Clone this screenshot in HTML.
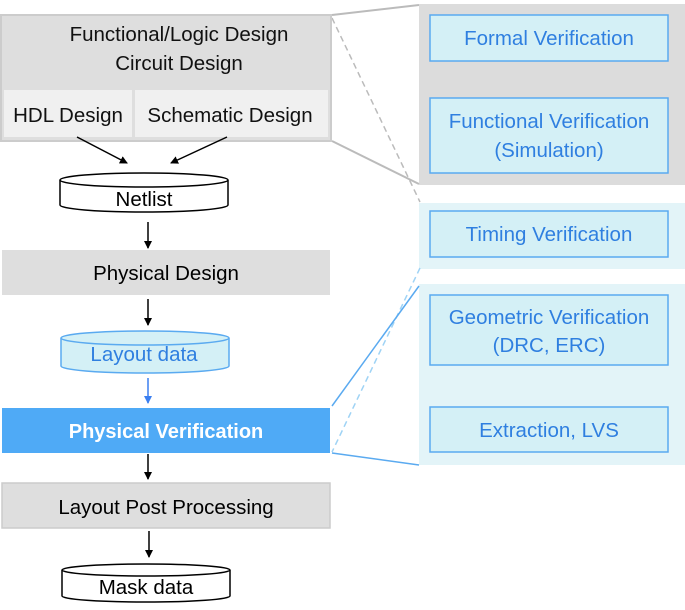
<!DOCTYPE html>
<html><head><style>
body{margin:0;background:#fff;}
svg text{font-family:"Liberation Sans",sans-serif;}
</style></head><body>
<svg width="685" height="605" viewBox="0 0 685 605" xmlns="http://www.w3.org/2000/svg">
<defs>
<marker id="a" markerWidth="8" markerHeight="8" refX="7" refY="4" orient="auto" markerUnits="userSpaceOnUse"><path d="M0,0L8,4L0,8z" fill="#000"/></marker>
<marker id="b" markerWidth="8" markerHeight="8" refX="7" refY="4" orient="auto" markerUnits="userSpaceOnUse"><path d="M0,0L8,4L0,8z" fill="#3b7ff0"/></marker>
</defs>
<rect x="419" y="4" width="266" height="181" fill="#dcdcdc"/>
<rect x="419" y="203" width="266" height="66" fill="#e3f4f8"/>
<rect x="419" y="284" width="266" height="181" fill="#e3f4f8"/>
<g fill="#d4f0f6" stroke="#5aaaf0" stroke-width="1.5">
<rect x="430" y="15" width="238" height="46"/>
<rect x="430" y="98" width="238" height="75"/>
<rect x="430" y="211" width="238" height="46"/>
<rect x="430" y="295" width="238" height="70"/>
<rect x="430" y="407" width="238" height="45"/>
</g>
<g fill="#2f7fe0" font-size="20.5" text-anchor="middle">
<text x="549" y="45">Formal Verification</text>
<text x="549" y="128">Functional Verification</text>
<text x="549" y="157">(Simulation)</text>
<text x="549" y="241">Timing Verification</text>
<text x="549" y="324">Geometric Verification</text>
<text x="549" y="352">(DRC, ERC)</text>
<text x="549" y="437">Extraction, LVS</text>
</g>
<line x1="332" y1="15" x2="419" y2="5" stroke="#bbb" stroke-width="2"/>
<line x1="332" y1="141" x2="419" y2="184" stroke="#bbb" stroke-width="2"/>
<line x1="332" y1="18" x2="420" y2="202" stroke="#bbb" stroke-width="1.5" stroke-dasharray="6,4"/>
<line x1="420" y1="268" x2="332" y2="452" stroke="#9fd3f5" stroke-width="1.5" stroke-dasharray="6,4"/>
<line x1="332" y1="406" x2="419" y2="286" stroke="#5aaaf0" stroke-width="1.5"/>
<line x1="332" y1="453" x2="419" y2="465" stroke="#5aaaf0" stroke-width="1.5"/>
<rect x="1" y="15" width="330" height="126" fill="#dedede" stroke="#ccc" stroke-width="2"/>
<rect x="4" y="90" width="128" height="47" fill="#f0f0f0"/>
<rect x="135" y="90" width="193" height="47" fill="#f0f0f0"/>
<g font-size="20.5" text-anchor="middle" fill="#111">
<text x="179" y="41">Functional/Logic Design</text>
<text x="179" y="70">Circuit Design</text>
<text x="68" y="122">HDL Design</text>
<text x="230" y="122">Schematic Design</text>
</g>
<line x1="77" y1="137" x2="127" y2="163" stroke="#000" stroke-width="1.5" marker-end="url(#a)"/>
<line x1="227" y1="137" x2="171" y2="163" stroke="#000" stroke-width="1.5" marker-end="url(#a)"/>
<g stroke="#000" stroke-width="1.5">
<path d="M60,180 L60,205 A84,7 0 0 0 228,205 L228,180" fill="#fff"/>
<ellipse cx="144" cy="180" rx="84" ry="7" fill="#fff"/>
</g>
<text x="144" y="206" font-size="20.5" text-anchor="middle">Netlist</text>
<line x1="148" y1="222" x2="148" y2="248" stroke="#000" stroke-width="1.5" marker-end="url(#a)"/>
<rect x="2" y="250" width="328" height="45" fill="#dedede"/>
<text x="166" y="280" font-size="20.5" text-anchor="middle">Physical Design</text>
<line x1="148" y1="299" x2="148" y2="325" stroke="#000" stroke-width="1.5" marker-end="url(#a)"/>
<g stroke="#5aaaf0" stroke-width="1.5">
<path d="M61,338 L61,366 A84,7 0 0 0 229,366 L229,338" fill="#d4f0f6"/>
<ellipse cx="145" cy="338" rx="84" ry="7" fill="#d4f0f6"/>
</g>
<text x="144" y="361" font-size="20.5" text-anchor="middle" fill="#2f7fe0">Layout data</text>
<line x1="148" y1="378" x2="148" y2="403" stroke="#3b7ff0" stroke-width="1.5" marker-end="url(#b)"/>
<rect x="2" y="408" width="328" height="45" fill="#4faaf6"/>
<text x="166" y="438" font-size="20" text-anchor="middle" fill="#fff" font-weight="bold">Physical Verification</text>
<line x1="148" y1="454" x2="148" y2="479" stroke="#000" stroke-width="1.5" marker-end="url(#a)"/>
<rect x="2" y="483" width="328" height="45" fill="#dedede" stroke="#ccc" stroke-width="1.5"/>
<text x="166" y="514" font-size="20.5" text-anchor="middle">Layout Post Processing</text>
<line x1="149" y1="531" x2="149" y2="557" stroke="#000" stroke-width="1.5" marker-end="url(#a)"/>
<g stroke="#000" stroke-width="1.5">
<path d="M62,570 L62,596 A84,6 0 0 0 230,596 L230,570" fill="#fff"/>
<ellipse cx="146" cy="570" rx="84" ry="6" fill="#fff"/>
</g>
<text x="146" y="594" font-size="20.5" text-anchor="middle">Mask data</text>
</svg>
</body></html>
